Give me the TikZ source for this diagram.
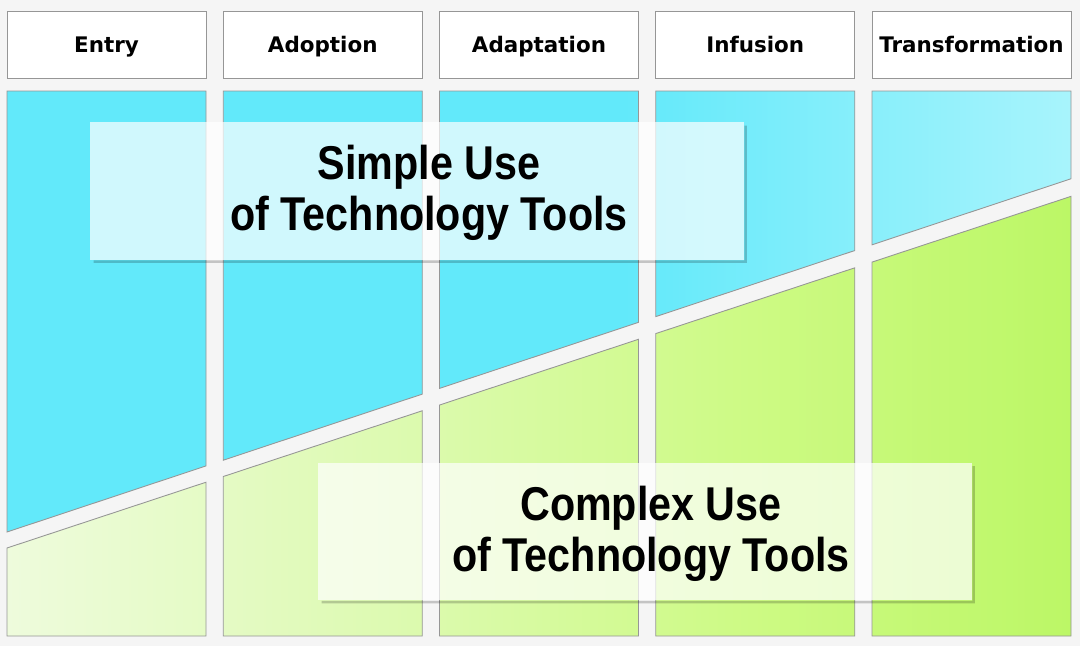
\documentclass[tikz,border=0pt]{standalone}
\usepackage{fontspec}
\usetikzlibrary{calc}
\newfontfamily\headfont{DejaVu Sans}
\newfontfamily\bigfont[FakeStretch=0.87]{Liberation Sans}
\definecolor{bgc}{RGB}{245,245,245}
\definecolor{framec}{RGB}{150,150,150}
\definecolor{blueA}{RGB}{98,233,250}
\definecolor{blueB}{RGB}{168,244,252}
\definecolor{greenA}{RGB}{238,251,220}
\definecolor{greenB}{RGB}{220,250,175}
\definecolor{greenC}{RGB}{205,250,132}
\definecolor{greenD}{RGB}{188,247,102}
\pgfdeclarehorizontalshading{bluefade}{100bp}{color(0bp)=(blueA); color(25bp)=(blueA); color(54bp)=(blueA); color(75bp)=(blueB); color(100bp)=(blueB)}
\pgfdeclarehorizontalshading{greenfade}{100bp}{color(0bp)=(greenA); color(25bp)=(greenA); color(44bp)=(greenB); color(60bp)=(greenC); color(75bp)=(greenD); color(100bp)=(greenD)}
\begin{document}
\begin{tikzpicture}[x=0.02cm, y=-0.02cm,
    header/.style={draw=framec, fill=white, minimum width=3.98cm, minimum height=1.34cm,
      font=\headfont\bfseries\fontsize{12.2}{14}\selectfont, text height=8.9pt, text depth=0pt},
    panel/.style={draw=framec, line width=0.5pt},
    usebox/.style={fill=white, fill opacity=0.7, text opacity=1, minimum width=13.08cm,
      minimum height=2.76cm, inner sep=0pt},
    usetext/.style={align=center, font=\bigfont\bfseries\fontsize{27}{28.5}\selectfont, anchor=base}]

    \fill[bgc] (0,0) rectangle (1080,646);
    \useasboundingbox (0,0) rectangle (1080,646);

    \node[header] (entry) at (106.5,44.5) {Entry};
    \node[header] (adoption) at (322.75,44.5) {Adoption};
    \node[header] (adaptation) at (539,44.5) {Adaptation};
    \node[header] (infusion) at (755.25,44.5) {Infusion};
    \node[header] (transformation) at (971.5,44.5) {Transformation};

    \shade[shading=bluefade, panel] \foreach \i in {0,...,4} {
      ({7+216.25*\i},91) -- ({206+216.25*\i},91) -- ({206+216.25*\i},{532-0.332*(199+216.25*\i)})
      -- ({7+216.25*\i},{532-0.332*216.25*\i}) -- cycle};
    \shade[shading=greenfade, panel] \foreach \i in {0,...,4} {
      ({7+216.25*\i},{548-0.3305*216.25*\i}) -- ({206+216.25*\i},{548-0.3305*(199+216.25*\i)})
      -- ({206+216.25*\i},636) -- ({7+216.25*\i},636) -- cycle};

    \node[usebox] (simplebox) at (417,191) {};
    \fill[black, opacity=0.2] ($(simplebox.south west)+(4,0)$) -- ($(simplebox.south west)+(4,2.5)$)
      -- ($(simplebox.south east)+(2.5,2.5)$) -- ($(simplebox.north east)+(2.5,4)$)
      -- ($(simplebox.north east)+(0,4)$) -- (simplebox.south east) -- cycle;
    \node[usetext] (simpletext) at (429,230) {Simple Use\\of Technology Tools};

    \node[usebox] (complexbox) at (645,531.5) {};
    \fill[black, opacity=0.2] ($(complexbox.south west)+(4,0)$) -- ($(complexbox.south west)+(4,2.5)$)
      -- ($(complexbox.south east)+(2.5,2.5)$) -- ($(complexbox.north east)+(2.5,4)$)
      -- ($(complexbox.north east)+(0,4)$) -- (complexbox.south east) -- cycle;
    \node[usetext] (complextext) at (651,571) {Complex Use\\of Technology Tools};

\end{tikzpicture}
\end{document}
